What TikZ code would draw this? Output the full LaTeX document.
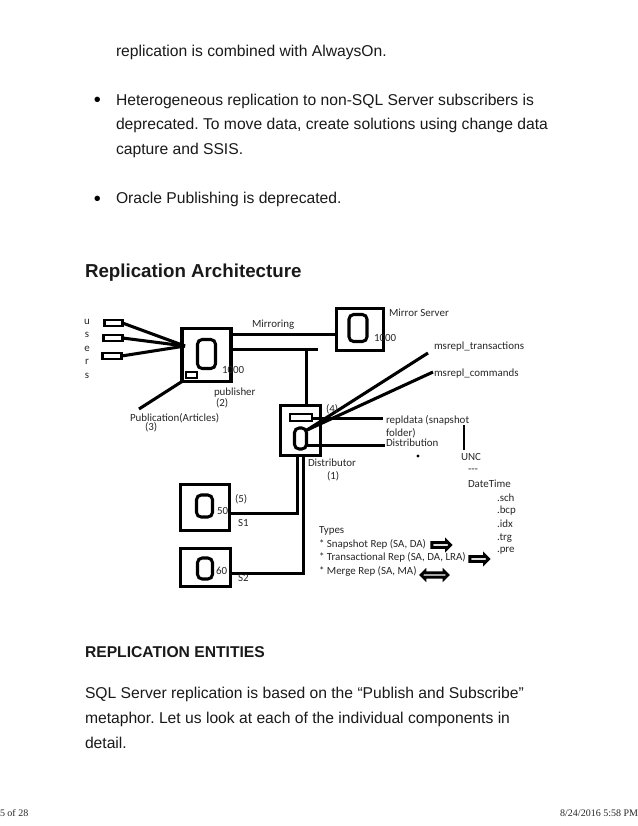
\documentclass[tikz,border=0pt]{standalone}
\usepackage{fontspec}
\setmainfont{Liberation Sans}
\newfontfamily\labelfont{Carlito}
\newfontfamily\footfont{Liberation Serif}
\usetikzlibrary{shapes.arrows}

\begin{document}
\frenchspacing
\begin{tikzpicture}[
  x=0.75pt, y=-0.75pt,
  every node/.style={inner sep=0pt, outer sep=0pt},
  body/.style={anchor=base west, font=\fontsize{11.75}{14}\selectfont, text=black!90},
  head/.style={anchor=base west, font=\fontsize{14.05}{16}\selectfont\bfseries, text=black!90},
  bul/.style={anchor=center, font=\fontsize{15}{16}\selectfont, text=black},
  foot/.style={font=\fontsize{7.5}{9}\selectfont\footfont, text=black!85},
  lbl/.style={anchor=west, font=\fontsize{8.2}{10}\selectfont\labelfont, text=black!85},
  wh/.style 2 args={minimum width=#1*0.75pt, minimum height=#2*0.75pt},
  server/.style={draw, line width=2.3pt, fill=white},
  inner/.style={draw, line width=2.3pt, rounded corners=3.5pt},
  tag/.style={draw, line width=2pt},
  wire/.style={line width=2.3pt},
  blockr/.style={single arrow, draw, line width=2.2pt, fill=white, minimum height=14pt,
                 minimum width=6pt, single arrow head extend=0.8pt},
  blockd/.style={double arrow, draw, line width=2.2pt, fill=white, minimum height=20pt,
                 minimum width=5.5pt, double arrow head extend=0.8pt},
]
  \useasboundingbox (0,0) rectangle (638,826);

  % Page text
  \node[body] (t1) at (116,56) {replication is combined with AlwaysOn.};
  \node[bul] (b1) at (97.5,102) {\textbullet};
  \node[body] (t2) at (116,105) {Heterogeneous replication to non-SQL Server subscribers is};
  \node[body] (t3) at (116,129) {deprecated. To move data, create solutions using change data};
  \node[body] (t4) at (116,154) {capture and SSIS.};
  \node[bul] (b2) at (97.5,200.5) {\textbullet};
  \node[body] (t5) at (116,203) {Oracle Publishing is deprecated.};
  \node[head] (h1) at (85,277) {Replication Architecture};
  \node[head, font=\fontsize{11.75}{14}\selectfont\bfseries] (h2) at (85,657) {REPLICATION ENTITIES};
  \node[body] (t6) at (85,698) {SQL Server replication is based on the “Publish and Subscribe”};
  \node[body] (t7) at (85,723) {metaphor. Let us look at each of the individual components in};
  \node[body] (t8) at (85,748) {detail.};
  \node[foot, anchor=west] (f1) at (0,813) {5 of 28};
  \node[foot, anchor=east] (f2) at (638,813) {8/24/2016 5:58 PM};

  % Users
  \node[lbl, anchor=center] (u1) at (87,322) {u};
  \node[lbl, anchor=center] (u2) at (87,335) {s};
  \node[lbl, anchor=center] (u3) at (87,349) {e};
  \node[lbl, anchor=center] (u4) at (87,362) {r};
  \node[lbl, anchor=center] (u5) at (87,376) {s};
  \node[tag, wh={18}{6}] (user1) at (113.5,323) {};
  \node[tag, wh={19}{6}] (user2) at (113,338) {};
  \node[tag, wh={19}{6}] (user3) at (112,356) {};

  % Publisher
  \node[server, wh={49}{53}] (pub) at (206.5,355) {};
  \node[inner, wh={18}{29}] (pubdb) at (206.5,354) {};
  \node[tag, fill=white, wh={11}{6}] (pubart) at (191.5,375) {};
  \coordinate (pubin) at (185,346);
  \coordinate (pubfree) at (139,409);
  \draw[wire] (user1.east) -- (pubin);
  \draw[wire] (user2.east) -- (pubin);
  \draw[wire] (user3.east) -- (pubin);
  \draw[wire] (pub.south west) -- (pubfree);

  % Mirror
  \node[server, wh={47}{42}] (mirror) at (360,329.5) {};
  \node[inner, wh={18}{27}] (mirrordb) at (358,328) {};
  \coordinate (mirrorin) at (335,334.5);
  \coordinate (branch) at (318,349.5);
  \coordinate (junction) at (306.5,349.5);
  \draw[wire] (pub.east |- mirrorin) -- (mirrorin);
  \draw[wire] (pub.east |- branch) -- (branch);

  % Distributor
  \node[server, wh={40}{50}] (dist) at (300.5,430.5) {};
  \node[tag, wh={22}{7}] (distsnap) at (301,417.5) {};
  \node[inner, wh={12}{21}] (distdb) at (300.5,438.5) {};
  \draw[wire] (junction) -- (junction |- dist.north);
  \coordinate (transend) at (428,353);
  \coordinate (cmdend) at (433,372);
  \coordinate (snapend) at (383,418.5);
  \coordinate (distend) at (385,445.5);
  \coordinate (dbout) at (307,430);
  \draw[wire] (dbout) -- (transend);
  \draw[wire] (dbout) -- (cmdend);
  \draw[wire] (distsnap.east |- snapend) -- (snapend);
  \draw[wire] (distdb.east |- distend) -- (distend);

  % Subscribers
  \node[server, wh={49}{46}] (s1) at (205,507.5) {};
  \node[inner, wh={16}{22}] (s1db) at (204.5,506) {};
  \node[server, wh={50}{38}] (s2) at (205.5,567.5) {};
  \node[inner, wh={15}{21}] (s2db) at (205,568.5) {};
  \coordinate (s1in) at (231,513.5);
  \coordinate (s2in) at (232,573.5);
  \coordinate (s1out) at (297.5,457);
  \coordinate (s2out) at (303.5,457);
  \draw[wire] (s1out) -- (s1out |- s1in) -- (s1in);
  \draw[wire] (s2out) -- (s2out |- s2in) -- (s2in);

  % UNC mark
  \coordinate (unctop) at (464,425);
  \coordinate (uncend) at (464,450);
  \draw[wire, line width=2.1pt] (unctop) -- (uncend);
  \node[circle, fill=black, minimum size=2.6pt] (dot) at (418,456) {};

  % Labels
  \node[lbl] (lmirroring) at (252,325) {Mirroring};
  \node[lbl] (lpub1000) at (222,370) {1000};
  \node[lbl] (lpublisher) at (214,393) {publisher};
  \node[lbl] (lpub2) at (216,403) {(2)};
  \node[lbl] (lart) at (130,418) {Publication(Articles)};
  \node[lbl] (lart3) at (145,427) {(3)};
  \node[lbl] (lmirror) at (389,313) {Mirror Server};
  \node[lbl] (lmir1000) at (374,338) {1000};
  \node[lbl] (ltrans) at (434,347) {msrepl\_transactions};
  \node[lbl] (lcmd) at (434,374) {msrepl\_commands};
  \node[lbl] (ldist4) at (326,409) {(4)};
  \node[lbl] (lrepl) at (386,420) {repldata (snapshot};
  \node[lbl] (lfolder) at (386,433) {folder)};
  \node[lbl] (ldistn) at (386,443) {Distribution};
  \node[lbl] (ldistr) at (308,463) {Distributor};
  \node[lbl] (ldist1) at (327,476) {(1)};
  \node[lbl] (ls5) at (235,499) {(5)};
  \node[lbl] (l50) at (217,511) {50};
  \node[lbl] (ls1) at (238,523) {S1};
  \node[lbl] (l60) at (216,571) {60};
  \node[lbl] (ls2) at (238,578) {S2};

  \node[lbl] (lunc) at (461,457) {UNC};
  \node[lbl] (ldash) at (468,471) {---};
  \node[lbl] (ldate) at (468,484) {DateTime};
  \node[lbl] (lsch) at (497,498) {.sch};
  \node[lbl] (lbcp) at (497,511) {.bcp};
  \node[lbl] (lidx) at (497,524) {.idx};
  \node[lbl] (ltrg) at (497,538) {.trg};
  \node[lbl] (lpre) at (497,551) {.pre};

  % Replication types
  \node[lbl] (ltypes) at (319,531) {Types};
  \node[lbl] (lsnap) at (319,544) {* Snapshot Rep (SA, DA)};
  \node[lbl] (ltran) at (319,557) {* Transactional Rep (SA, DA, LRA)};
  \node[lbl] (lmerge) at (319,571) {* Merge Rep (SA, MA)};
  \node[blockr] (asnap) at (440,545) {};
  \node[blockr] (atran) at (478,559) {};
  \node[blockd] (amerge) at (434.5,575) {};
\end{tikzpicture}
\end{document}
